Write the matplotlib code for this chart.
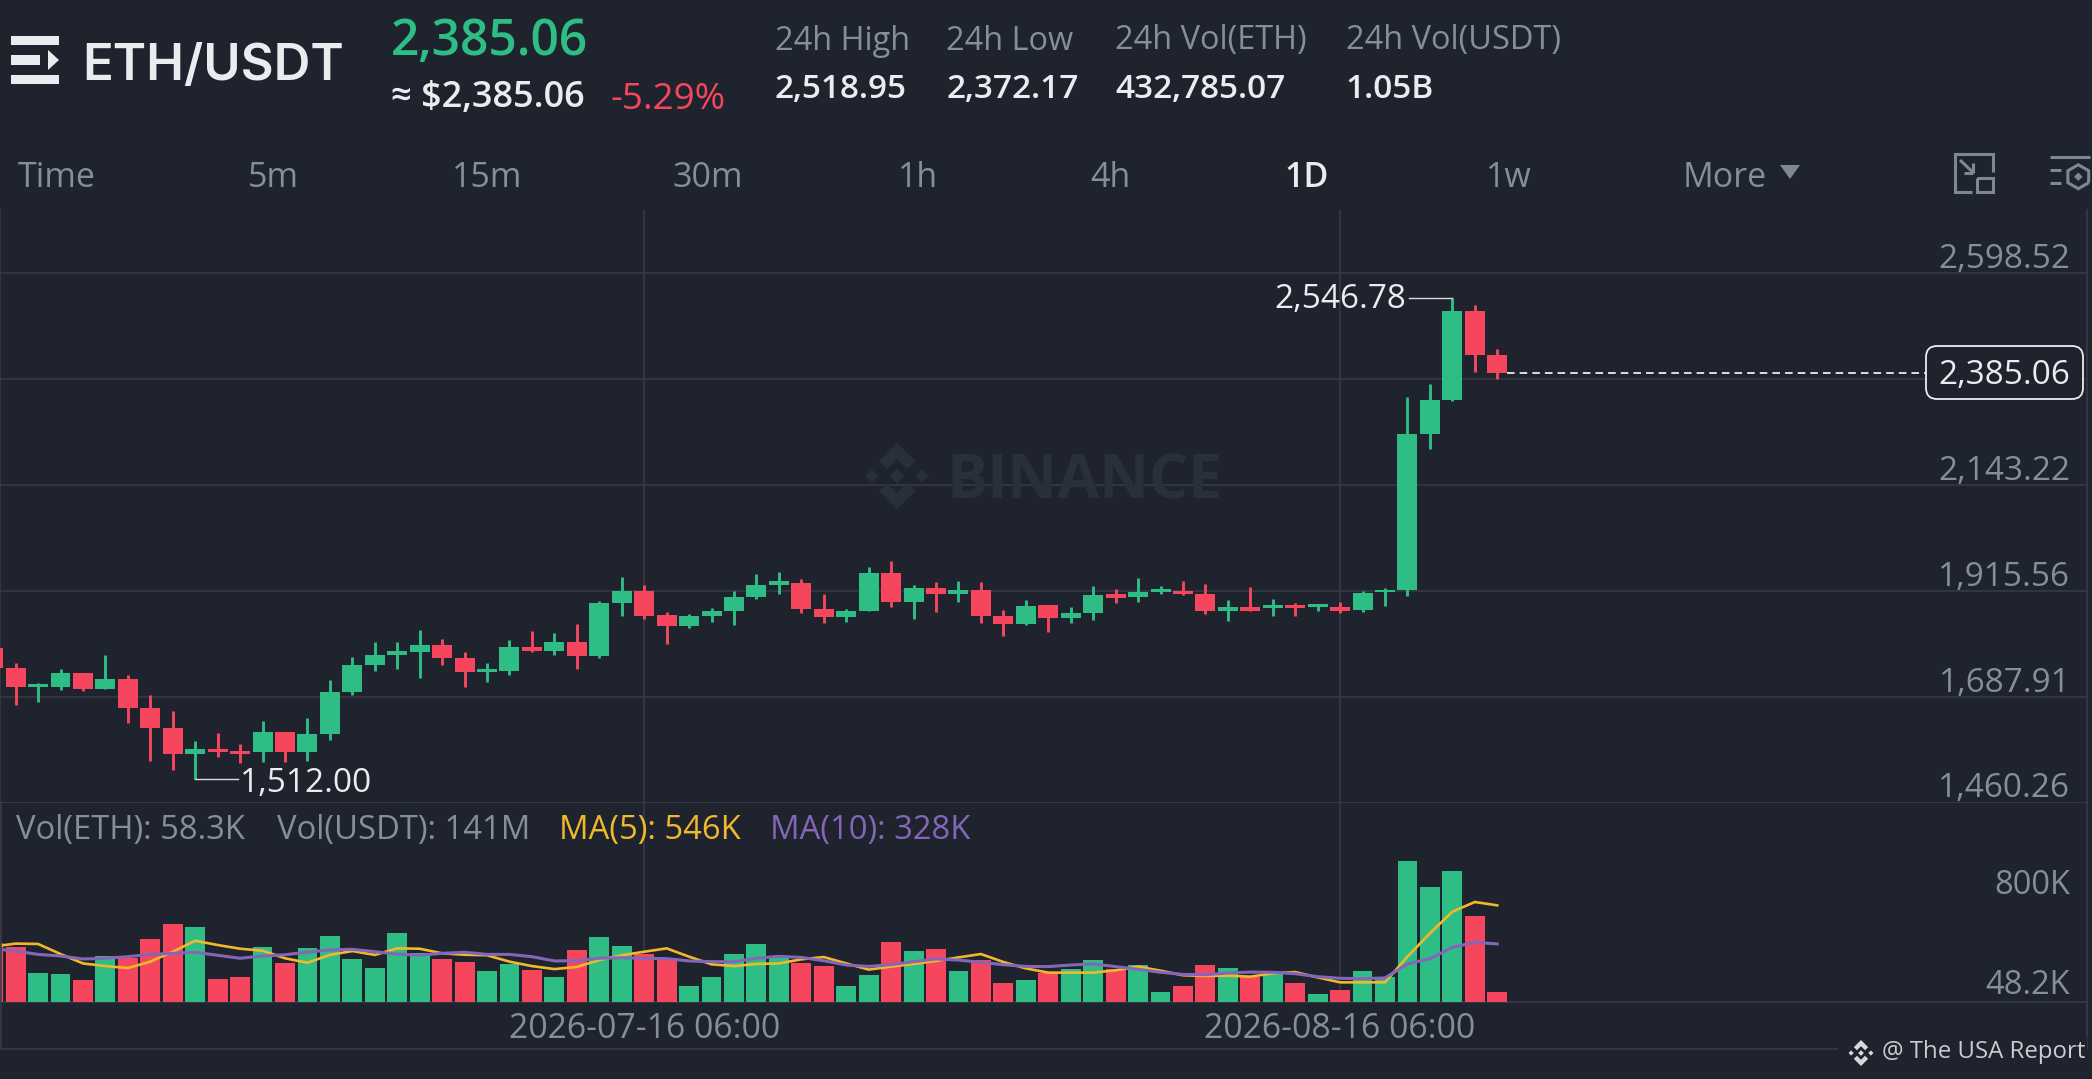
import matplotlib
matplotlib.use("Agg")
import matplotlib.pyplot as plt
from matplotlib.patches import FancyBboxPatch, Polygon
import numpy as np

# ---- data ----
index = list(range(-1, 67))
opens = [1793,1750,1710,1710,1740,1705,1727,1665,1621,1566,1577,1573,1570,1612,1570,1608,1699,1756,1779,1784,1799,1771,1742,1744,1796,1786,1806,1776,1891,1917,1864,1841,1862,1872,1904,1929,1934,1877,1860,1874,1954,1892,1922,1910,1918,1862,1844,1885,1859,1869,1909,1903,1913,1917,1910,1872,1882,1879,1886,1882,1882,1875,1913,1918,2254,2327,2517,2423]
highs = [1793,1762,1718,1748,1740,1778,1735,1692,1659,1594,1610,1587,1636,1612,1644,1724,1774,1806,1807,1832,1813,1784,1761,1811,1830,1826,1845,1895,1946,1929,1870,1867,1879,1917,1953,1956,1941,1910,1877,1967,1981,1929,1936,1937,1935,1875,1897,1885,1882,1927,1920,1943,1926,1938,1931,1897,1925,1899,1890,1888,1892,1917,1922,2334,2360,2546.78,2531,2436]
lows = [1750,1670,1677,1703,1700,1705,1633,1551,1531,1512,1560,1546,1548,1548,1551,1596,1692,1743,1748,1728,1756,1710,1720,1735,1785,1778,1748,1772,1863,1856,1801,1836,1850,1842,1899,1910,1869,1847,1850,1873,1882,1856,1871,1892,1847,1820,1843,1828,1847,1854,1890,1892,1910,1907,1867,1852,1872,1862,1862,1874,1868,1871,1884,1906,2222,2325,2386,2372.17]
closes = [1750,1710,1716,1740,1705,1727,1665,1621,1566,1577,1570,1566,1612,1570,1608,1699,1756,1779,1786,1799,1771,1742,1748,1796,1786,1806,1776,1891,1917,1863,1841,1862,1872,1904,1929,1937,1877,1860,1874,1954,1892,1922,1910,1918,1862,1844,1884,1859,1869,1908,1900,1914,1920,1910,1872,1882,1874,1886,1879,1888,1874,1912,1919,2254,2327,2517,2423,2385.06]
volume = [335,311,164,160,124,260,249,356,441,422,132,141,311,222,305,373,243,190,390,275,241,226,173,215,179,141,294,367,318,271,249,92,143,269,326,247,218,201,89,153,341,288,298,177,237,109,124,162,185,237,185,209,56,90,209,192,143,158,109,47,70,175,143,797,648,738,486,58.3]
ma5 = [313,330,328,271,218,203,192,228,284,346,322,301,290,247,222,266,288,266,303,301,275,267,264,228,203,186,198,237,264,284,303,256,213,203,215,218,241,254,218,183,200,215,232,252,271,226,190,166,166,166,179,200,177,151,147,149,143,162,169,139,111,111,111,256,388,510,565,546]
ma10 = [301,288,269,260,243,247,256,269,275,281,264,247,260,267,282,294,298,284,271,264,275,281,269,269,256,232,233,247,250,247,245,232,228,228,247,258,252,233,209,201,211,228,243,237,224,211,201,200,209,215,200,185,168,156,154,164,169,168,160,143,134,132,136,215,245,309,337,328]
price_ticks = [1460.26,1687.91,1915.56,2143.22,2370.87,2598.52]
price_labels = ["1,460.26","1,687.91","1,915.56","2,143.22","2,370.87","2,598.52"]
date_pos = [28,59]
date_labels = ["2026-07-16 06:00","2026-08-16 06:00"]
last_price = 2385.06
stat_heads = ["24h High","24h Low","24h Vol(ETH)","24h Vol(USDT)"]
stat_vals = ["2,518.95","2,372.17","432,785.07","1.05B"]
tabs = ["5m","15m","30m","1h","4h","1D","1w"]

BG="#1E232E"; GREEN="#2EBD85"; RED="#F6465D"; GRID="#363B45"; GRAY="#848E9C"; WHITE="#EAECEF"
YEL="#F0B92D"; PUR="#8466B8"
plt.rcParams['font.family']=['Open Sans','DejaVu Sans']
W,H=2092,1079
fig=plt.figure(figsize=(W/100,H/100),dpi=100,facecolor=BG)

def box(x0,y0,x1,y1):
    return [x0/W,1-y1/H,(x1-x0)/W,(y1-y0)/H]

ax=fig.add_axes(box(0,210,2087,803),facecolor=BG)
vx=fig.add_axes(box(0,803,2087,1002),facecolor=BG,sharex=ax)
ov=fig.add_axes([0,0,1,1],zorder=10); ov.set_xlim(0,W); ov.set_ylim(H,0); ov.axis('off'); ov.patch.set_alpha(0)

xlim=(-0.695,92.27)
i=np.array(index); o=np.array(opens,float); c=np.array(closes,float); h=np.array(highs,float); l=np.array(lows,float)
up=c>=o; col=np.where(up,GREEN,RED)
ax.vlines(i,l,h,colors=col,lw=2.1,zorder=3)
ax.bar(i,np.abs(c-o),bottom=np.minimum(o,c),width=0.89,color=col,zorder=4,linewidth=0)
ax.set_xlim(*xlim); ax.set_ylim(1460.26,1460.26+593/0.4652)
ax.set_yticks(price_ticks)
ax.tick_params(axis='y',length=0,labelleft=False,labelright=False)
for t_,s_ in zip(price_ticks,price_labels):
    ax.annotate(s_,xy=(1,t_),xycoords=('axes fraction','data'),xytext=(-12,4),textcoords='offset points',
                ha='right',va='baseline',fontsize=24,color=GRAY,annotation_clip=False,zorder=6)
ax.set_xticks(date_pos)
ax.tick_params(axis='x',length=0,labelbottom=False)
ax.grid(True,color=GRID,lw=1.1,zorder=0)
for s in ['left','right','bottom']: ax.spines[s].set_color(GRID); ax.spines[s].set_linewidth(1.2)
ax.spines['top'].set_visible(False)

# annotations
ax.plot([64,62.05],[2546.78,2546.78],color="#D8DADF",lw=1.0,zorder=5)
ax.plot([8,9.9],[1512,1512],color="#D8DADF",lw=1.0,zorder=5)
ax.annotate("2,546.78",xy=(61.95,2546.78),xytext=(0,-1.5),textcoords='offset points',color=WHITE,fontsize=24,ha='right',va='center',zorder=6)
ax.annotate("1,512.00",xy=(9.95,1512),xytext=(1,-3.5),textcoords='offset points',color=WHITE,fontsize=24,ha='left',va='center',zorder=6,annotation_clip=False)
ax.plot([66.45,85.1],[last_price,last_price],color=WHITE,lw=1.3,dashes=(4.2,2.8),zorder=5)

# volume
vx.bar(i,volume,width=0.885,color=col,zorder=3,linewidth=0)
vx.plot(i,ma5,color=YEL,lw=1.9,zorder=4)
vx.plot(i,ma10,color=PUR,lw=2.2,zorder=5)
vx.set_ylim(0,199*5.65)
vx.set_yticks([]); vx.set_xticks(date_pos,date_labels)
vx.tick_params(axis='x',length=0,pad=7.5,labelsize=24.3,labelcolor=GRAY)
vx.xaxis.grid(True,color=GRID,lw=1.1,zorder=0)
vx.set_xlim(*xlim)
for s in ['top','right','left','bottom']: vx.spines[s].set_color(GRID); vx.spines[s].set_linewidth(1.2)
vx.spines['top'].set_visible(False)

def T(x,y,s,size=22,color=GRAY,ha='left',weight='normal',family=None,**k):
    return ov.text(x,y,s,fontsize=size,color=color,ha=ha,va='center',fontweight=weight,
                   family=family if family else ['Open Sans','DejaVu Sans'],**k)

# frame lower portion
ov.plot([0,2087],[1049,1049],color=GRID,lw=1.2,zorder=1)
ov.plot([2087,2087],[1002,1049],color=GRID,lw=1.2,zorder=1)
ov.plot([1,1],[803,1049],color=GRID,lw=1.2,zorder=1)

# header
for y0,y1,x1 in [(36,45,59),(55,65,40),(75,84,59)]:
    ov.fill([11,x1,x1,11],[y0,y0,y1,y1],color=WHITE,lw=0)
ov.fill([48,59,48],[50,60,70],color=WHITE,lw=0)
T(82,66,"ETH/USDT",36.6,WHITE,weight='semibold',family=['Inter','DejaVu Sans'])
T(391,42,"2,385.06",35.8,GREEN,weight='semibold')
T(391,98,"≈ $2,385.06",26,WHITE,weight='semibold')
T(611,100,"-5.29%",26.5,RED)
for x,a,b in zip([775,946,1115,1346],stat_heads,stat_vals):
    T(x,41,a,23.4,GRAY)
    T(x,89,b,24,WHITE,weight='semibold')

# tabs
T(18,178,"Time",24.5,GRAY)
for x,s in zip([273,487,708,918,1110,1307,1509],tabs):
    T(x,178,s,24.5,WHITE if s=="1D" else GRAY,ha='center',weight='semibold' if s=="1D" else 'normal')
T(1683,178,"More",24.5,GRAY)
ICON="#7F8797"
ov.fill([1780,1800,1790],[165,165,179],color=ICON,lw=0)
def L(xs,ys,lw=2.2): ov.plot(xs,ys,color=ICON,lw=lw,solid_capstyle='butt',solid_joinstyle='miter')
L([1993.3,1993.3,1955,1955,1972],[171.7,154,154,191.7,191.7])
L([1976.7,1993.3,1993.3,1976.7,1976.7],[178.3,178.3,191.7,191.7,178.3])
L([1960,1973.3],[160,172.7]); L([1973.3,1973.3],[163,172.7]); L([1964,1973.3],[172.7,172.7])
L([2050,2090],[156.7,156.7]); L([2050,2061],[170,170]); L([2050,2061],[183,183])
a=np.radians(np.arange(30,391,60))
L(2078.3+12*np.cos(a),176.7+12*np.sin(a))
ov.fill([2078.3,2082.5,2078.3,2074.1],[172.5,176.7,180.9,176.7],color=ICON,lw=0)

# logo
def logo(cx,cy,s,color,zo=2):
    shapes=[[(0,-.22),(.22,0),(0,.22),(-.22,0)],
            [(.76,-.2),(.96,0),(.76,.2),(.56,0)],
            [(-.76,-.2),(-.56,0),(-.76,.2),(-.96,0)],
            [(0,-1),(.55,-.45),(.31,-.21),(0,-.52),(-.31,-.21),(-.55,-.45)],
            [(0,1),(.55,.45),(.31,.21),(0,.52),(-.31,.21),(-.55,.45)]]
    for p in shapes:
        ov.add_patch(Polygon([(cx+s*x,cy+s*y) for x,y in p],closed=True,color=color,lw=0,zorder=zo))
WM="#2A303B"
logo(897,476,33,WM)
T(946,483,"BINANCE",44,WM,weight='bold')

# volume labels & legend
T(2070,886,"800K",23.5,GRAY,ha='right')
T(2070,986,"48.2K",23.5,GRAY,ha='right')
T(16,830,"Vol(ETH): 58.3K",23.6,GRAY)
T(277,830,"Vol(USDT): 141M",23.6,GRAY)
T(559,830,"MA(5): 546K",23.6,YEL)
T(770,830,"MA(10): 328K",23.6,PUR)

# price box
ov.add_patch(FancyBboxPatch((1926,346),157,53,boxstyle="round,pad=0,rounding_size=11",fc=BG,ec=WHITE,lw=1.3,zorder=6))
T(2004.5,375,"2,385.06",24,WHITE,ha='center',zorder=7)

# footer
ov.fill([1838,2087,2087,1838],[1035,1035,1069,1069],color=BG,lw=0,zorder=2)
ov.plot([2087,2087],[1002,1035],color=GRID,lw=1.2,zorder=3)
logo(1861,1053,13,"#D6D8DC",zo=3)
T(1882,1052,"@ The USA Report",17.3,"#C9CCD1",zorder=3)

fig.savefig("out.png",dpi=100,facecolor=BG)
